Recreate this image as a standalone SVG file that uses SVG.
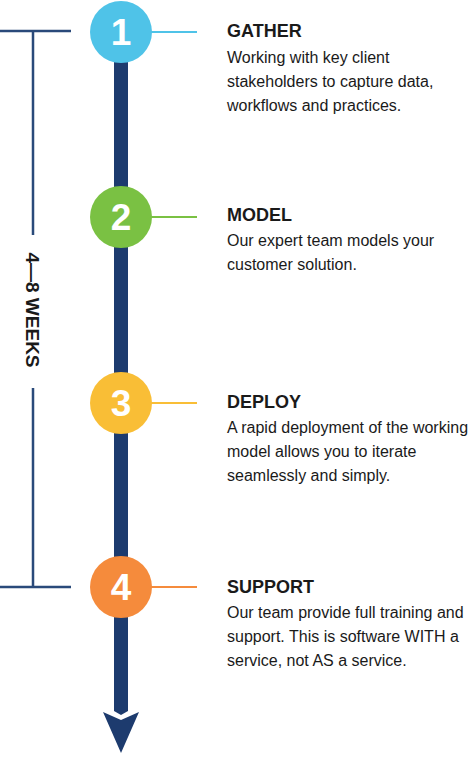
<svg xmlns="http://www.w3.org/2000/svg" width="474" height="764" viewBox="0 0 474 764">
<style>
.navy{fill:#1d3b6e}
.br{stroke:#2a4a7a;stroke-width:2.5;fill:none}
.num{font-family:"Liberation Sans",Arial,sans-serif;font-weight:bold;font-size:37px;fill:#fff;text-anchor:middle}
.hd{font-family:"Liberation Sans",Arial,sans-serif;font-weight:bold;font-size:18px;fill:#1a1a1a}
.bd{font-family:"Liberation Sans",Arial,sans-serif;font-size:16px;fill:#1a1a1a}
.wk{font-family:"Liberation Sans",Arial,sans-serif;font-weight:bold;font-size:19px;fill:#1a1a1a;text-anchor:middle}
</style>
<rect width="474" height="764" fill="#fff"/>
<g id="connectors">
  <path class="navy" d="M114,40 H128 V711 L121,715 L114,711 Z"/>
  <path class="navy" d="M103,712 L121,720 L139,712 L121,753 Z"/>
  <line x1="150" y1="32" x2="197" y2="32" stroke="#4fc3e8" stroke-width="2"/>
  <line x1="150" y1="217" x2="197" y2="217" stroke="#7ac143" stroke-width="2"/>
  <line x1="150" y1="403" x2="197" y2="403" stroke="#f9be36" stroke-width="2"/>
  <line x1="150" y1="587" x2="197" y2="587" stroke="#f58b3c" stroke-width="2"/>
</g>
<g id="bracket">
  <path class="br" d="M0,31 H71 M33,31 V235 M33,388 V587 M0,587 H71"/>
  <text class="wk" transform="translate(33,310) rotate(90)" x="0" y="7">4—8 WEEKS</text>
</g>
<g id="step1">
  <circle cx="121" cy="32" r="31" fill="#4fc3e8"/>
  <text class="num" x="121" y="45">1</text>
  <text class="hd" x="227" y="37">GATHER</text>
  <text class="bd" x="227" y="63">Working with key client</text>
  <text class="bd" x="227" y="87">stakeholders to capture data,</text>
  <text class="bd" x="227" y="111">workflows and practices.</text>
</g>
<g id="step2">
  <circle cx="121" cy="217" r="31" fill="#7ac143"/>
  <text class="num" x="121" y="230">2</text>
  <text class="hd" x="227" y="221">MODEL</text>
  <text class="bd" x="227" y="246">Our expert team models your</text>
  <text class="bd" x="227" y="270">customer solution.</text>
</g>
<g id="step3">
  <circle cx="121" cy="403" r="31" fill="#f9be36"/>
  <text class="num" x="121" y="416">3</text>
  <text class="hd" x="227" y="408">DEPLOY</text>
  <text class="bd" x="227" y="433">A rapid deployment of the working</text>
  <text class="bd" x="227" y="457">model allows you to iterate</text>
  <text class="bd" x="227" y="481">seamlessly and simply.</text>
</g>
<g id="step4">
  <circle cx="121" cy="587" r="31" fill="#f58b3c"/>
  <text class="num" x="121" y="600">4</text>
  <text class="hd" x="227" y="593">SUPPORT</text>
  <text class="bd" x="227" y="618">Our team provide full training and</text>
  <text class="bd" x="227" y="642">support. This is software WITH a</text>
  <text class="bd" x="227" y="666">service, not AS a service.</text>
</g>
</svg>
